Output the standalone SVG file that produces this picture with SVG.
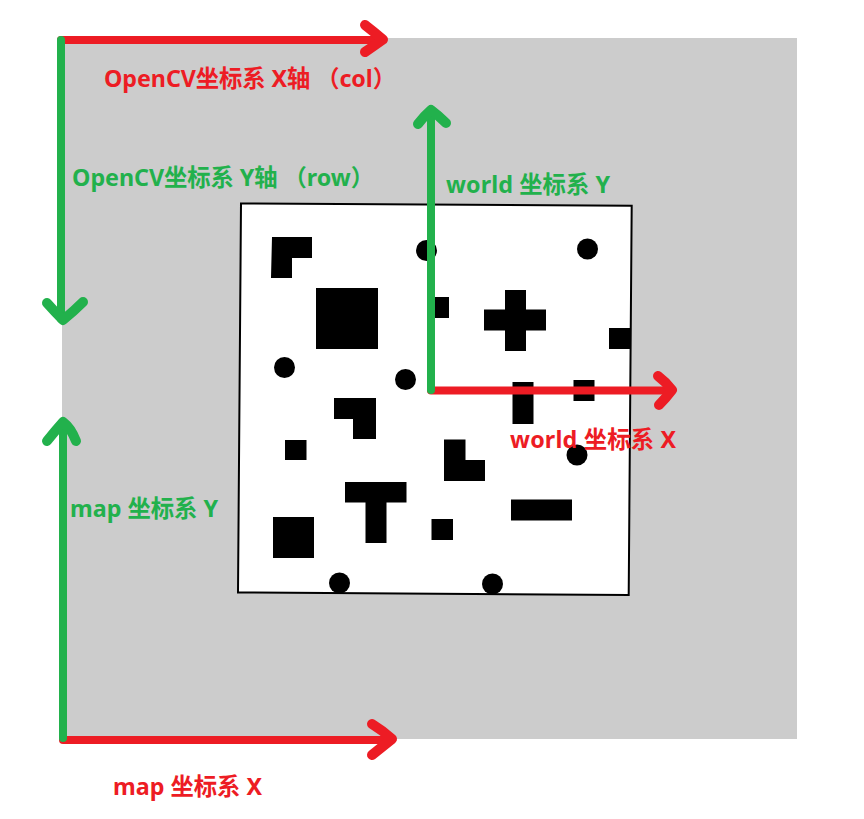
<svg xmlns="http://www.w3.org/2000/svg" width="864" height="819" viewBox="0 0 864 819">
<style>
.ob{fill:#000}
.r{fill:none;stroke:#ED1C24;stroke-width:8;stroke-linecap:round;stroke-linejoin:round}
.g{fill:none;stroke:#22B14C;stroke-width:8;stroke-linecap:round;stroke-linejoin:round}
.h{stroke-width:10}
text{font-family:"Noto Sans","Noto Sans CJK SC",sans-serif;font-weight:700;font-size:23.300px}
.tr{fill:#ED1C24}
.tg{fill:#22B14C}
</style>
<rect width="864" height="819" fill="#fff"/>
<rect id="map-background" x="62" y="38" width="735" height="701" fill="#CCCCCC"/>
<g id="grid-map">
<polygon points="241,203.500 631.700,205.700 628.700,595 238,592.500" fill="#fff" stroke="#000" stroke-width="2"/>
<path class="ob" d="M272,237H312V258H292V278H271Z"/>
<rect class="ob" x="316" y="288" width="62" height="61"/>
<circle class="ob" cx="284.500" cy="367.500" r="10.500"/>
<circle class="ob" cx="405.500" cy="379.500" r="10.500"/>
<circle class="ob" cx="426.500" cy="250.500" r="10.500"/>
<rect class="ob" x="428" y="297" width="21" height="21"/>
<path class="ob" d="M505,290H526V309.500H546V330.500H526V351H505V330.500H484V309.500H505Z"/>
<circle class="ob" cx="587.500" cy="249" r="10.500"/>
<rect class="ob" x="609" y="328" width="22" height="21"/>
<rect class="ob" x="512.500" y="382" width="21" height="42"/>
<rect class="ob" x="573.500" y="380" width="21" height="21"/>
<path class="ob" d="M334,398H376V439H353V419H334Z"/>
<rect class="ob" x="285" y="440" width="21.500" height="20"/>
<path class="ob" d="M444,439.500H465.500V460H485V481H444Z"/>
<circle class="ob" cx="577" cy="455" r="10.500"/>
<path class="ob" d="M345,482H406.500V502.500H386.500V543H365.500V502.500H345Z"/>
<rect class="ob" x="431.500" y="519" width="21.500" height="21"/>
<rect class="ob" x="511" y="499.500" width="61" height="21"/>
<rect class="ob" x="273" y="517" width="41" height="41"/>
<circle class="ob" cx="339.500" cy="583" r="10.500"/>
<circle class="ob" cx="492.500" cy="584" r="10.500"/>
</g>
<g id="connectors">
<path id="opencv-x" class="r" d="M61,40H382"/>
<path class="r h" d="M365,25Q374,32 383,39.500Q374,46 365,52"/>
<path id="opencv-y" class="g" d="M61,40V319"/>
<path class="g h" d="M47,303Q55,312 63,320Q74,311 83,302"/>
<path id="map-x" class="r" d="M63,740H390"/>
<path class="r h" d="M372,724Q382,730 392,739Q382,747 372,755"/>
<path id="map-y" class="g" d="M63,738V424"/>
<path class="g h" d="M47,441Q55,431 63,422Q71,428 76,441"/>
<path id="world-x" class="r" d="M431,390.500H670"/>
<path class="r h" d="M658,376Q666,382 672,390Q666,398 659,405"/>
<path id="world-y" class="g" d="M431,390V112"/>
<path class="g h" d="M418,124Q424,116 431,110Q439,116 446,123"/>
</g>
<g id="labels">
<text class="tr" x="104" y="87" textLength="292" lengthAdjust="spacing">OpenCV坐标系 X轴 （col）</text>
<text class="tg" x="72" y="186" textLength="302" lengthAdjust="spacing">OpenCV坐标系 Y轴 （row）</text>
<text class="tg" x="446" y="193" textLength="164" lengthAdjust="spacing">world 坐标系 Y</text>
<text class="tr" x="510" y="448" textLength="166" lengthAdjust="spacing">world 坐标系 X</text>
<text class="tg" x="70" y="517" textLength="148" lengthAdjust="spacing">map 坐标系 Y</text>
<text class="tr" x="113" y="795" textLength="149" lengthAdjust="spacing">map 坐标系 X</text>
</g>
</svg>
